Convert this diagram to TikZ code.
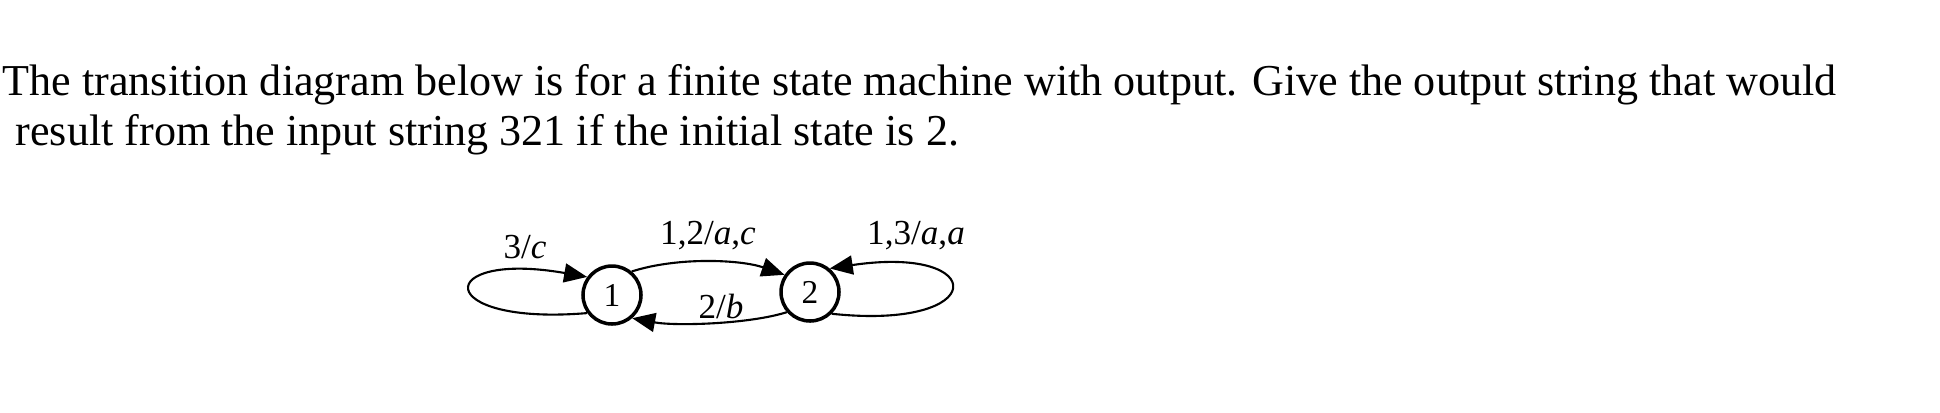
\documentclass[tikz,border=0pt]{standalone}
\usepackage{fontspec}
\setmainfont{Liberation Serif}
\usepackage{tikz}
\usetikzlibrary{arrows.meta}

\begin{document}
\begin{tikzpicture}[
    state/.style={circle,draw,line width=1pt,minimum size=0.58cm,inner sep=0pt,
      font=\fontsize{9.5pt}{10pt}\selectfont},
    trans/.style={line width=0.6pt,-{Triangle[length=2.3mm,width=1.9mm]}},
    lab/.style={font=\fontsize{10pt}{11pt}\selectfont,inner sep=0pt},
    question/.style={anchor=base west,inner sep=0pt,font=\fontsize{12.55pt}{14pt}\selectfont}]
    \useasboundingbox (0,0) rectangle (19.40,-4.12);
    \node[question] (line1) at (0.02,-0.957)
      {The transition diagram below is for a finite state machine with output. Give the output string that would};
    \node[question] (line2) at (0.15,-1.457)
      {result from the input string 321 if the initial state is 2.};
    \foreach \n/\x/\y in {1/6.12/-2.95, 2/8.10/-2.92} {
      \node[state] (\n) at (\x,\y) {\n};
    }
    \draw[trans] (1.216) .. controls +(-1.56,-0.13) and +(-1.54,0.27) .. (1.144);
    \draw[trans] (1.50) .. controls +(0.47,0.15) and +(-0.43,0.15) .. (2.146);
    \draw[trans] (2.221) .. controls +(-0.38,-0.12) and +(0.43,-0.08) .. (1.311);
    \draw[trans] (2.-45) .. controls +(1.59,-0.17) and +(1.60,0.24) .. (2.50);
    \node[lab] (l11) at (5.25,-2.475) {3/\textit{c}};
    \node[lab] (l12) at (7.08,-2.36) {1,2/\textit{a},\textit{c}};
    \node[lab] (l22) at (9.16,-2.36) {1,3/\textit{a},\textit{a}};
    \node[lab] (l21) at (7.21,-3.06) {2/\textit{b}};
\end{tikzpicture}
\end{document}
